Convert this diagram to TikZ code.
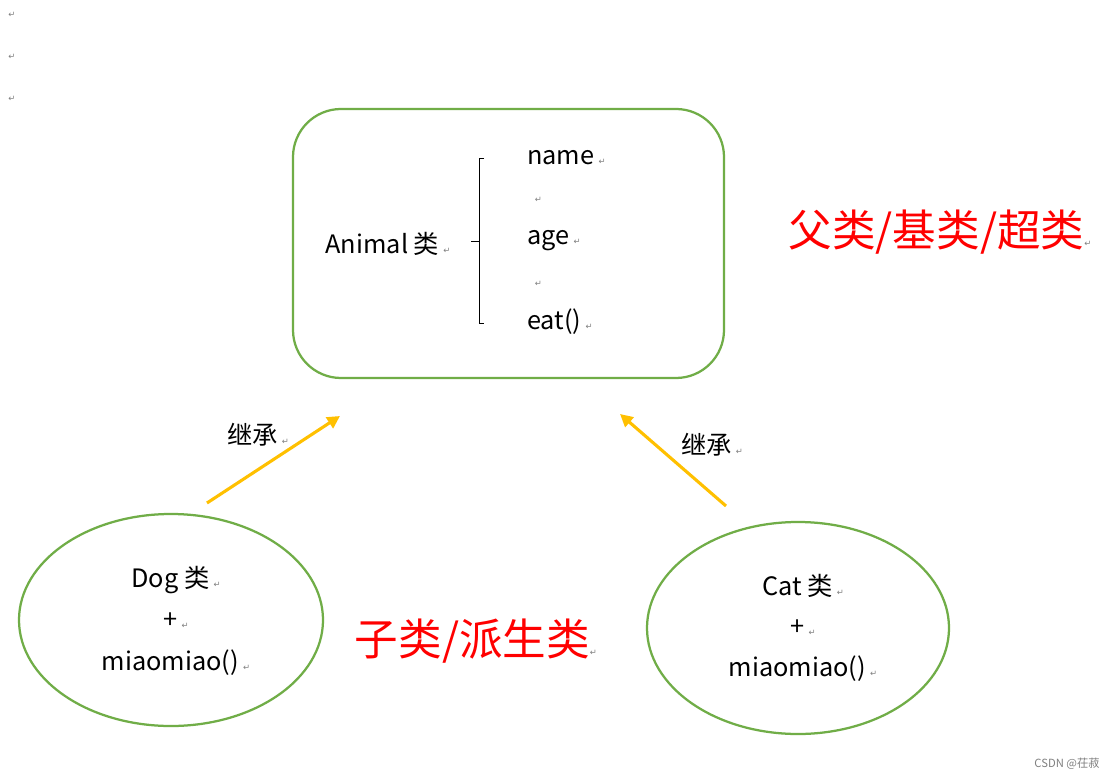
\documentclass[tikz,border=0pt]{standalone}
\usepackage{fontspec}
\setmainfont{Noto Sans CJK SC}
\newfontfamily\symfont{DejaVu Sans}
\usetikzlibrary{arrows.meta}
\definecolor{boxgreen}{RGB}{112,173,71}
\definecolor{arrowgold}{RGB}{255,192,0}
\newcommand{\ret}{\textcolor{gray}{\symfont\fontsize{6}{6}\selectfont ↵}}
\tikzset{
  txt/.style={font=\fontsize{18}{21}\selectfont, inner sep=0pt},
  bigred/.style={font=\fontsize{31}{34}\selectfont, text=red, inner sep=0pt},
  inherit/.style={draw=arrowgold, line width=2.2pt, -{Triangle[length=9pt,width=9pt]}},
  classbox/.style={draw=boxgreen, line width=1.6pt}
}
\begin{document}
\begin{tikzpicture}[x=0.025cm, y=-0.025cm]
\useasboundingbox[fill=white] (0,0) rectangle (1116,780);
% return marks top left
\node (r1) at (12,15) {\ret};
\node (r2) at (12,57) {\ret};
\node (r3) at (12,99) {\ret};
% parent class
\draw[classbox, rounded corners=1.2cm] (293,109) rectangle (724,378);
\node[txt] (animal) at (388,244) {Animal 类\,\ret};
\draw[line width=0.6pt] (484,158) -- (479,158) -- (479,323) -- (484,323);
\draw[line width=0.6pt] (471,241) -- (479,241);
\node[txt, anchor=west] (name) at (527,158) {name\,\ret};
\node[anchor=west] (e1) at (530,200) {\ret};
\node[txt, anchor=west] (age) at (527,241) {age\,\ret};
\node[anchor=west] (e2) at (530,284) {\ret};
\node[txt, anchor=west] (eat) at (527,322) {eat()\,\ret};
\node[bigred] (parent) at (940,232) {父类/基类/超类\ret};
% subclasses
\draw[classbox] (171,620) ellipse [x radius=152, y radius=106];
\node[txt] (dog) at (176,580) {Dog 类\,\ret};
\node[txt] (dplus) at (176,621) {+\,\ret};
\node[txt] (dmeth) at (176,663) {miaomiao()\,\ret};
\draw[classbox] (798,628) ellipse [x radius=151, y radius=106];
\node[txt] (cat) at (803,586) {Cat 类\,\ret};
\node[txt] (cplus) at (803,628) {+\,\ret};
\node[txt] (cmeth) at (803,669) {miaomiao()\,\ret};
\node[bigred] (child) at (476,641) {子类/派生类\ret};
% inheritance arrows
\coordinate (dogtail) at (207,503);
\coordinate (doghead) at (340,416);
\coordinate (cattail) at (726,506);
\coordinate (cathead) at (620,414);
\draw[inherit] (dogtail) -- (doghead);
\draw[inherit] (cattail) -- (cathead);
\node[txt] (ldog) at (258,435) {继承\,\ret};
\node[txt] (lcat) at (712,445) {继承\,\ret};
\node[font=\fontsize{8}{8}\selectfont, text=gray] (mark) at (1067,764) {CSDN @茌菽};
\end{tikzpicture}
\end{document}
